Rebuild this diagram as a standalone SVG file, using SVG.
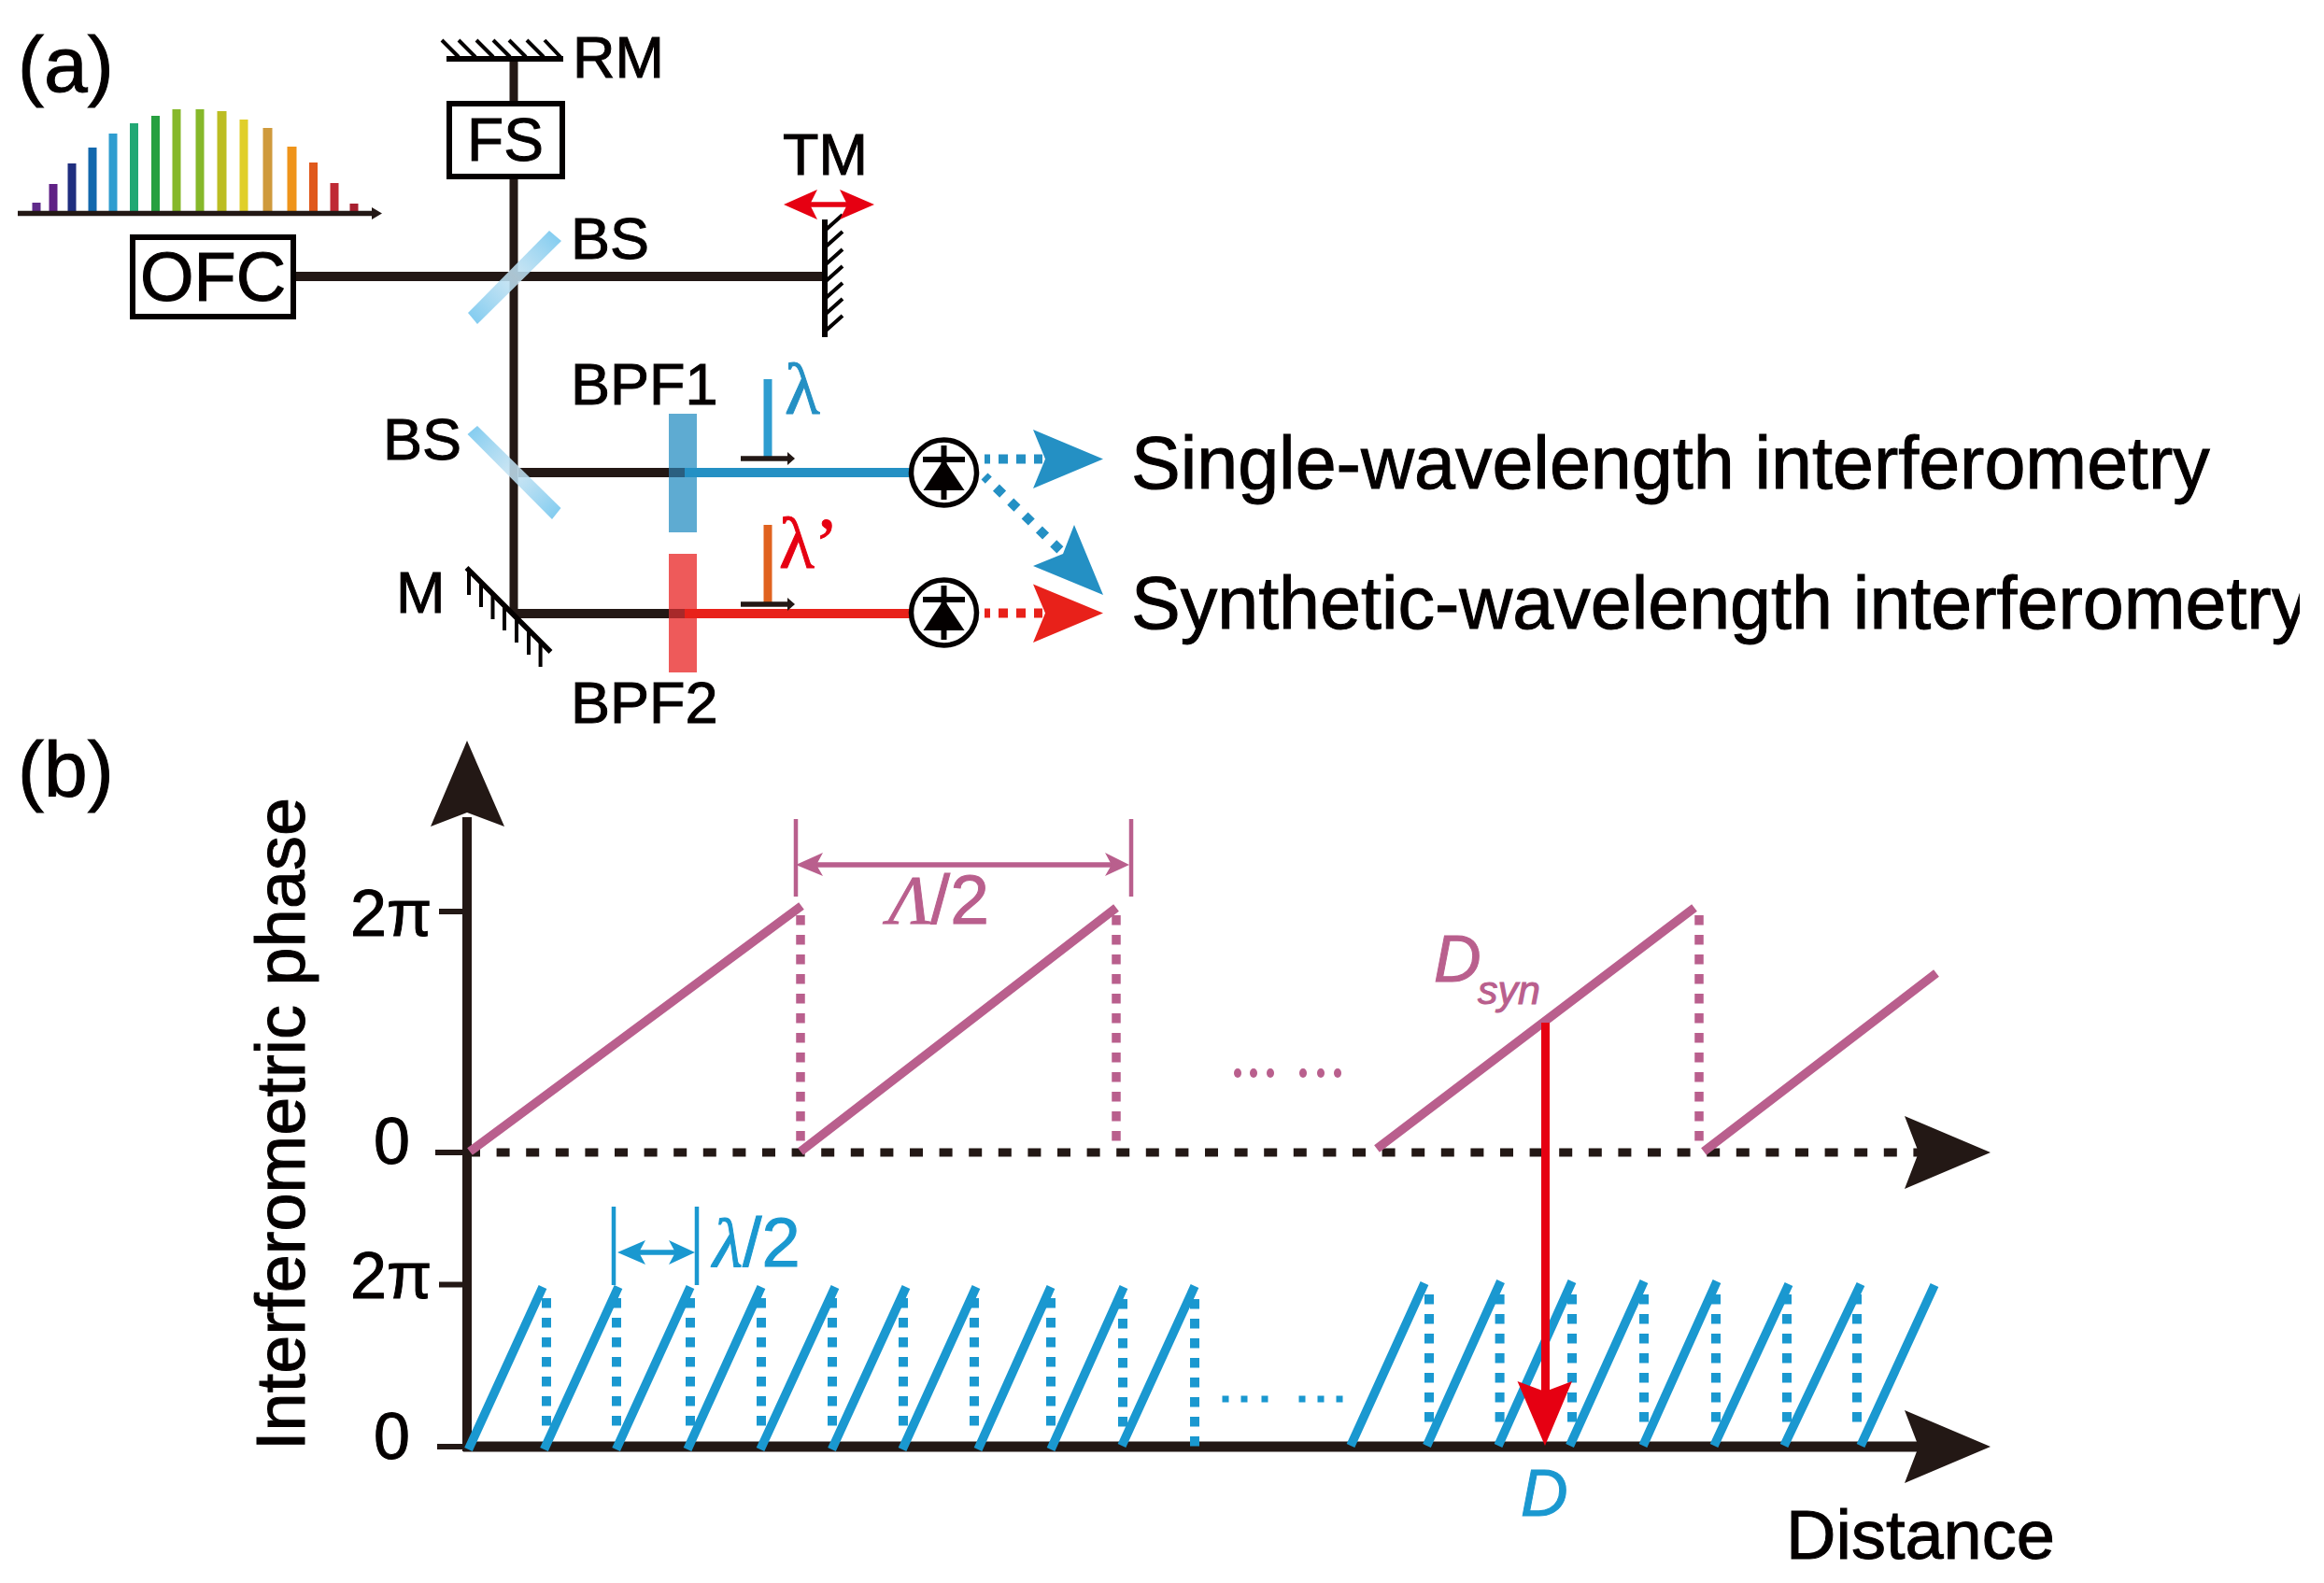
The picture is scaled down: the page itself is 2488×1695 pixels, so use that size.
<svg xmlns="http://www.w3.org/2000/svg" width="2488" height="1695" viewBox="0 0 2488 1695">
<defs>
<style>
text{font-family:"Liberation Sans",Arial,sans-serif;fill:#040000;stroke:#040000;stroke-width:1}
.beam{stroke:#231815;fill:none}
.box{fill:#fff;stroke:#040000;stroke-width:6}
.hatch{stroke:#040000;stroke-width:4;fill:none}
.pink{stroke:#b95f8d;fill:none;stroke-width:9.5}
.pinkd{stroke:#b95f8d;fill:none;stroke-width:9.5;stroke-dasharray:10.5 10.5}
.blue{stroke:#1a98d0;fill:none;stroke-width:9.5}
.blued{stroke:#1a98d0;fill:none;stroke-width:10;stroke-dasharray:10.5 10.5}
.lab{font-size:63px}
.big{font-size:79px}
.ax{font-size:70px}
.pk{fill:#b95f8d;stroke:#b95f8d}
.bl{fill:#1a98d0;stroke:#1a98d0}
.it{font-style:italic}
.ser{font-family:"Liberation Serif",serif}
</style>
<linearGradient id="bsg1" gradientUnits="userSpaceOnUse" x1="595" y1="252" x2="506" y2="341"><stop offset="0" stop-color="#85cdf0"/><stop offset=".5" stop-color="#c4e2f2" stop-opacity=".85"/><stop offset="1" stop-color="#85cdf0"/></linearGradient>
<linearGradient id="bsg2" gradientUnits="userSpaceOnUse" x1="505" y1="460" x2="596" y2="550"><stop offset="0" stop-color="#85cdf0"/><stop offset=".5" stop-color="#c4e2f2" stop-opacity=".85"/><stop offset="1" stop-color="#85cdf0"/></linearGradient>
<clipPath id="clipR"><rect x="0" y="0" width="2462" height="1695"/></clipPath>
<g id="det"><circle cx="0" cy="0" r="35" fill="#fff" stroke="#040000" stroke-width="5.500"/><path d="M0-29V29" stroke="#040000" stroke-width="6"/><path d="M-22.500-14H22.500" stroke="#040000" stroke-width="6"/><path d="M0-14L22 19H-22Z" fill="#040000"/></g>
</defs>
<rect width="2488" height="1695" fill="#fff"/>

<g id="connectors">
<path class="beam" stroke-width="9" d="M550 63V657"/>
<path class="beam" stroke-width="10" d="M314 296H883"/>
<path class="beam" stroke-width="10" d="M555 506H716"/>
<path class="beam" stroke-width="10" d="M552 657H716"/>
<path d="M733 506H974" stroke="#2490c4" stroke-width="10" fill="none"/>
<path d="M733 657H974" stroke="#e8211a" stroke-width="10" fill="none"/>
<path d="M1054 491.500H1116" stroke="#2490c4" stroke-width="10" stroke-dasharray="10 9" stroke-dashoffset="4"/>
<path d="M1054 510L1136 590" stroke="#2490c4" stroke-width="10" stroke-dasharray="10 11.400" stroke-dashoffset="4"/>
<path d="M1054 656.500H1116" stroke="#e8211a" stroke-width="10" stroke-dasharray="10 9" stroke-dashoffset="4"/>
<polygon points="1106,460 1181,491.500 1106,523 1119,491.500" fill="#2490c4"/>
<polygon points="1150,562 1181,637 1106,606 1138,593" fill="#2490c4"/>
<polygon points="1106,625.500 1181,656.500 1106,688 1119,656.500" fill="#e8211a"/>
</g>

<g id="label-a"><text x="19" y="98" font-size="84">(a)</text></g>
<g id="spectrum">
<rect x="34.500" y="217" width="9" height="11" fill="#5f2a8a"/>
<rect x="52.500" y="197" width="9" height="31" fill="#5f2185"/>
<rect x="72.500" y="175" width="9" height="53" fill="#1f2e7f"/>
<rect x="94.500" y="158" width="9" height="70" fill="#1268ad"/>
<rect x="116.500" y="143" width="9" height="85" fill="#2f9dd0"/>
<rect x="139" y="132" width="9" height="96" fill="#22a874"/>
<rect x="162" y="124" width="9" height="104" fill="#27a040"/>
<rect x="184.500" y="117" width="9" height="111" fill="#86b82a"/>
<rect x="209.500" y="117" width="9" height="111" fill="#86b82a"/>
<rect x="232.500" y="119" width="10" height="109" fill="#bcbd22"/>
<rect x="256.500" y="128" width="9" height="100" fill="#e0cf2a"/>
<rect x="281.500" y="137" width="10" height="91" fill="#cf9a3c"/>
<rect x="307.500" y="157" width="10" height="71" fill="#ef941a"/>
<rect x="331" y="174" width="9" height="54" fill="#e0591c"/>
<rect x="353.500" y="196" width="9" height="32" fill="#bf2a35"/>
<rect x="374.500" y="218" width="9" height="10" fill="#a81f2f"/>
<path d="M19 228.500H400" stroke="#231815" stroke-width="5.500"/>
<polygon points="398,222 409,228.500 398,235" fill="#231815"/>
</g>
<g id="OFC"><rect class="box" x="142" y="254" width="172" height="85"/><text x="228" y="322" font-size="74" text-anchor="middle">OFC</text></g>
<g id="RM"><path d="M478 63H603" stroke="#040000" stroke-width="6"/><path class="hatch" d="M473 43L491 61M491 43L509 61M510 43L528 61M528 43L546 61M545 43L563 61M564 43L582 61M583 43L600 61"/><text class="lab" x="613" y="83">RM</text></g>
<g id="FS"><rect class="box" x="481" y="111" width="121" height="78"/><text x="541" y="172" font-size="64" text-anchor="middle">FS</text></g>
<g id="BS1"><polygon points="588,247 601,258 511,347 501,335" fill="url(#bsg1)"/><text class="lab" x="611" y="277">BS</text></g>
<g id="TM"><text class="lab" x="838" y="187">TM</text>
<path d="M883 235V361" stroke="#040000" stroke-width="6"/><path class="hatch" d="M883 247L902 230M883 265L902 248M883 284L902 267M883 302L902 285M883 320L902 303M883 337L902 320M883 355L902 338"/>
<path d="M860 219H915" stroke="#e60012" stroke-width="5.500"/>
<polygon points="839,219 875,203 867,219 875,235" fill="#e60012"/><polygon points="936,219 899,203 907,219 899,235" fill="#e60012"/></g>
<g id="BS2"><polygon points="511,456 500.500,465 591,556 600.500,544" fill="url(#bsg2)"/><text class="lab" x="410" y="492">BS</text></g>
<g id="BPF1"><text class="lab" x="611" y="433">BPF1</text><rect x="716" y="443" width="30" height="127" fill="#5eabd2"/><rect x="716" y="501" width="17" height="10" fill="#2a5f80"/><rect x="733" y="501" width="13" height="10" fill="#2490c4"/></g>
<g id="BPF2"><text class="lab" x="611" y="774">BPF2</text><rect x="716" y="593" width="30" height="127" fill="#ee5a5a"/><rect x="716" y="652" width="17" height="10" fill="#a8292a"/><rect x="733" y="652" width="13" height="10" fill="#e8211a"/></g>
<g id="lambda1"><path d="M822 406V490" stroke="#2f9dd0" stroke-width="9"/><path d="M793 491H845" stroke="#231815" stroke-width="5.500"/><polygon points="843,484 851,491 843,498" fill="#231815"/><text class="ser" x="840" y="443" font-size="78" style="fill:#2490c4;stroke:#2490c4">λ</text></g>
<g id="lambda2"><path d="M822 562V647" stroke="#e0621f" stroke-width="9"/><path d="M793 647H845" stroke="#231815" stroke-width="5.500"/><polygon points="843,640 851,647 843,654" fill="#231815"/><text class="ser" x="834" y="608" font-size="78" style="fill:#e60012;stroke:#e60012">λ’</text></g>
<g id="M"><text class="lab" x="424" y="656">M</text><path d="M499.500 608L589.500 698" stroke="#040000" stroke-width="5.500"/><path class="hatch" d="M502 610V637M515 623V650M527.500 636V663M540 648V675M553 661V688M566 674V701M578.600 687V714"/></g>
<g id="det1"><use href="#det" x="1010.500" y="506"/></g>
<g id="det2"><use href="#det" x="1010.500" y="656"/></g>
<g id="label-single"><text class="big" x="1211" y="523">Single-wavelength interferometry</text></g>
<g id="label-synth" clip-path="url(#clipR)"><text class="big" x="1211" y="673">Synthetic-wavelength interferometry</text></g>

<g id="label-b"><text x="19" y="853" font-size="84">(b)</text></g>
<g id="axes">
<path class="beam" stroke-width="10" d="M500 875V1554"/>
<polygon points="500,793 540,885 500,870 461,885" fill="#231815"/>
<path class="beam" stroke-width="6" d="M470 976H500M466 1234H500M470 1375.500H500M468 1549H500"/>
<path class="beam" stroke-width="9" d="M500 1234H2054" stroke-dasharray="14 17.600"/>
<polygon points="2131,1234 2039,1195 2054,1234 2039,1273" fill="#231815"/>
<path class="beam" stroke-width="11" d="M496 1549H2054"/>
<polygon points="2131,1549 2039,1510 2054,1549 2039,1588" fill="#231815"/>
<text class="ax" x="375" y="1002">2π</text><text class="ax" x="400" y="1246">0</text>
<text class="ax" x="375" y="1390">2π</text><text class="ax" x="400" y="1562">0</text>
<text x="326" y="1553" font-size="74" transform="rotate(-90 326 1553)">Interferometric phase</text>
<text x="1912" y="1669" font-size="74">Distance</text>
</g>
<g id="synthetic-trace">
<path class="pink" d="M503 1233L858 970M857 1233L1195 972M1474 1230L1814 972M1824 1233L2073 1042"/>
<path class="pinkd" d="M857 980V1228M1195 980V1228M1819 980V1223"/>
<path d="M852 877V960M1211 877V960" stroke="#b95f8d" stroke-width="4.500"/>
<path d="M870 926H1192" stroke="#b95f8d" stroke-width="5.500"/>
<polygon points="852,926 881,913 874,926 881,938" fill="#b95f8d"/><polygon points="1209,926 1183,913 1190,926 1183,938" fill="#b95f8d"/>
<text class="pk" x="951" y="989" font-size="75"><tspan class="ser it">Λ</tspan>/2</text>
<text class="pk it" x="1535" y="1051" font-size="70">D</text><text class="pk it" x="1582" y="1075" font-size="43">syn</text>
<g fill="#b95f8d"><ellipse cx="1325" cy="1149" rx="4" ry="5"/><ellipse cx="1342" cy="1149" rx="4" ry="5"/><ellipse cx="1360" cy="1149" rx="4" ry="5"/><ellipse cx="1395" cy="1149" rx="4" ry="5"/><ellipse cx="1414" cy="1149" rx="4" ry="5"/><ellipse cx="1432" cy="1149" rx="4" ry="5"/></g>
</g>
<g id="single-trace">
<path class="blued" d="M585 1390V1528M660 1390V1528M739 1390V1528M815 1390V1528M891 1390V1528M967 1390V1528M1043 1390V1528M1125 1390V1528M1202 1391V1531M1279 1391V1552M1530 1386V1524M1605.600 1386V1524M1683 1386V1524M1760 1386V1524M1837 1386V1524M1913 1386V1524M1988 1386V1524"/>
<path class="blue" d="M501.500 1552L581 1378M582.500 1552L662 1378M659.600 1552L739 1378M736 1552L815 1378M814 1552L894 1378M890.500 1552L970 1378M966 1552L1045 1378M1047 1552L1125 1378M1125 1552L1203 1378M1201 1548L1279 1377M1446 1548L1525 1374M1527.500 1548L1606.600 1372M1604 1548L1683 1372M1680.600 1548L1760 1372M1759 1548L1838 1372M1835 1548L1915 1375M1910 1548L1992 1375M1992 1548L2071 1376"/>
<path d="M657 1292V1376M746 1292V1376" stroke="#1a98d0" stroke-width="4.500"/>
<path d="M675 1341H730" stroke="#1a98d0" stroke-width="5.500"/>
<polygon points="661,1341 691,1328 684,1341 691,1354" fill="#1a98d0"/><polygon points="744,1341 716,1328 723,1341 716,1354" fill="#1a98d0"/>
<text class="bl" x="763" y="1356" font-size="74"><tspan class="ser it">λ</tspan>/2</text>
<text class="bl it" x="1628" y="1623" font-size="70">D</text>
<g fill="#1a98d0"><rect x="1308.500" y="1494.500" width="7" height="7"/><rect x="1328.500" y="1494.500" width="7" height="7"/><rect x="1350.500" y="1494.500" width="7" height="7"/><rect x="1390.500" y="1494.500" width="7" height="7"/><rect x="1410.500" y="1494.500" width="7" height="7"/><rect x="1430.500" y="1494.500" width="7" height="7"/></g>
</g>
<g id="readout-arrow">
<path d="M1654.500 1095V1495" stroke="#e60012" stroke-width="9"/>
<polygon points="1654,1548 1624.500,1479 1654,1490 1683,1479" fill="#e60012"/>
</g>
</svg>
